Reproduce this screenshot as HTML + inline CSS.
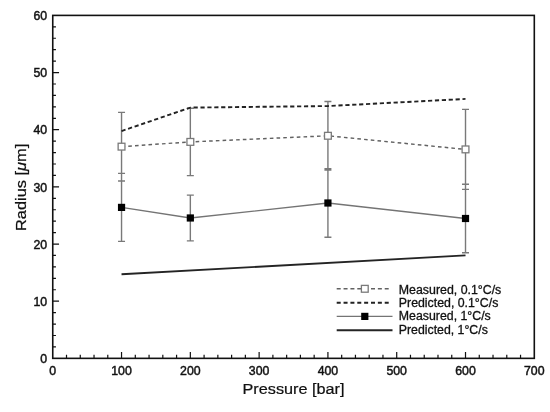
<!DOCTYPE html><html><head><meta charset="utf-8"><style>html,body{margin:0;padding:0;background:#fff;}svg{display:block;}text{font-family:"Liberation Sans",Arial,sans-serif;fill:#111;stroke:#111;stroke-width:0.22px;}.k{stroke-width:0.45px;}.g{stroke-width:0.3px;}</style></head><body>
<svg width="550" height="412" viewBox="0 0 550 412">
<rect width="550" height="412" fill="#fff"/>
<path d="M52.75 346.92h3.2M52.75 335.49h3.2M52.75 324.06h3.2M52.75 312.62h3.2M52.75 301.19h6.3M52.75 289.76h3.2M52.75 278.33h3.2M52.75 266.9h3.2M52.75 255.47h3.2M52.75 244.03h6.3M52.75 232.6h3.2M52.75 221.17h3.2M52.75 209.74h3.2M52.75 198.31h3.2M52.75 186.88h6.3M52.75 175.44h3.2M52.75 164.01h3.2M52.75 152.58h3.2M52.75 141.15h3.2M52.75 129.72h6.3M52.75 118.28h3.2M52.75 106.85h3.2M52.75 95.42h3.2M52.75 83.99h3.2M52.75 72.56h6.3M52.75 61.13h3.2M52.75 49.69h3.2M52.75 38.26h3.2M52.75 26.83h3.2M66.51 358.35v-3.6M80.27 358.35v-3.6M94.03 358.35v-3.6M107.78 358.35v-3.6M121.54 358.35v-6.3M135.3 358.35v-3.6M149.06 358.35v-3.6M162.82 358.35v-3.6M176.58 358.35v-3.6M190.34 358.35v-6.3M204.09 358.35v-3.6M217.85 358.35v-3.6M231.61 358.35v-3.6M245.37 358.35v-3.6M259.13 358.35v-6.3M272.89 358.35v-3.6M286.65 358.35v-3.6M300.4 358.35v-3.6M314.16 358.35v-3.6M327.92 358.35v-6.3M341.68 358.35v-3.6M355.44 358.35v-3.6M369.2 358.35v-3.6M382.96 358.35v-3.6M396.71 358.35v-6.3M410.47 358.35v-3.6M424.23 358.35v-3.6M437.99 358.35v-3.6M451.75 358.35v-3.6M465.51 358.35v-6.3M479.27 358.35v-3.6M493.02 358.35v-3.6M506.78 358.35v-3.6M520.54 358.35v-3.6" stroke="#111" stroke-width="1.2" fill="none"/>
<rect x="52.75" y="15.4" width="481.55" height="342.95" fill="none" stroke="#111" stroke-width="1.6"/>
<text x="47.1" y="363.05" font-size="12.3" text-anchor="end" class="k">0</text>
<text x="47.1" y="305.89" font-size="12.3" text-anchor="end" class="k">10</text>
<text x="47.1" y="248.73" font-size="12.3" text-anchor="end" class="k">20</text>
<text x="47.1" y="191.57" font-size="12.3" text-anchor="end" class="k">30</text>
<text x="47.1" y="134.42" font-size="12.3" text-anchor="end" class="k">40</text>
<text x="47.1" y="77.26" font-size="12.3" text-anchor="end" class="k">50</text>
<text x="47.1" y="20.1" font-size="12.3" text-anchor="end" class="k">60</text>
<text x="52.75" y="374.5" font-size="12.3" text-anchor="middle" class="k">0</text>
<text x="121.54" y="374.5" font-size="12.3" text-anchor="middle" class="k">100</text>
<text x="190.34" y="374.5" font-size="12.3" text-anchor="middle" class="k">200</text>
<text x="259.13" y="374.5" font-size="12.3" text-anchor="middle" class="k">300</text>
<text x="327.92" y="374.5" font-size="12.3" text-anchor="middle" class="k">400</text>
<text x="396.71" y="374.5" font-size="12.3" text-anchor="middle" class="k">500</text>
<text x="465.51" y="374.5" font-size="12.3" text-anchor="middle" class="k">600</text>
<text x="534.3" y="374.5" font-size="12.3" text-anchor="middle" class="k">700</text>
<text x="242.5" y="393.7" font-size="15.5" textLength="102" lengthAdjust="spacingAndGlyphs">Pressure [bar]</text>
<text transform="translate(26.3 231.0) rotate(-90)" font-size="15.5" textLength="87.3" lengthAdjust="spacingAndGlyphs">Radius [<tspan font-style="italic">μ</tspan>m]</text>
<path d="M121.54 112.35V180.94M118.04 112.35h7M118.04 180.94h7M190.34 108.18V175.62M186.84 108.18h7M186.84 175.62h7M327.92 101.49V170.08M324.42 101.49h7M324.42 170.08h7M465.51 109.38V189.4M462.01 109.38h7M462.01 189.4h7M121.54 173.39V241.41M118.04 173.39h7M118.04 241.41h7M190.34 195.11V240.84M186.84 195.11h7M186.84 240.84h7M327.92 168.71V237.3M324.42 168.71h7M324.42 237.3h7M465.51 184.2V252.79M462.01 184.2h7M462.01 252.79h7" stroke="#797979" stroke-width="1.4" fill="none"/>
<polyline points="121.54,274.22 465.51,255.41" stroke="#242424" stroke-width="1.9" fill="none"/>
<polyline points="121.54,207.4 190.34,217.98 327.92,203 465.51,218.49" stroke="#747474" stroke-width="1.3" fill="none"/>
<polyline points="121.54,131.04 190.34,107.6 327.92,106.06 465.51,98.92" stroke="#222222" stroke-width="1.9" fill="none" stroke-dasharray="4.2 2.7"/>
<polyline points="121.54,146.64 190.34,141.9 327.92,135.78 465.51,149.39" stroke="#626262" stroke-width="1.45" fill="none" stroke-dasharray="3.6 3.15"/>
<rect x="118.14" y="143.24" width="6.8" height="6.8" fill="#fff" stroke="#7a7a7a" stroke-width="1.3"/>
<rect x="186.94" y="138.5" width="6.8" height="6.8" fill="#fff" stroke="#7a7a7a" stroke-width="1.3"/>
<rect x="324.52" y="132.38" width="6.8" height="6.8" fill="#fff" stroke="#7a7a7a" stroke-width="1.3"/>
<rect x="462.11" y="145.99" width="6.8" height="6.8" fill="#fff" stroke="#7a7a7a" stroke-width="1.3"/>
<rect x="117.94" y="203.8" width="7.2" height="7.2" fill="#000"/>
<rect x="186.74" y="214.38" width="7.2" height="7.2" fill="#000"/>
<rect x="324.32" y="199.4" width="7.2" height="7.2" fill="#000"/>
<rect x="461.91" y="214.89" width="7.2" height="7.2" fill="#000"/>
<line x1="336.7" y1="288.8" x2="388.7" y2="288.8" stroke="#626262" stroke-width="1.45" stroke-dasharray="4 2.86"/>
<rect x="361.4" y="285.4" width="6.8" height="6.8" fill="#fff" stroke="#7a7a7a" stroke-width="1.3"/>
<line x1="336.7" y1="302.8" x2="388.7" y2="302.8" stroke="#222222" stroke-width="1.9" stroke-dasharray="4 2.86"/>
<line x1="336.7" y1="316.4" x2="392.5" y2="316.4" stroke="#747474" stroke-width="1.3"/>
<rect x="361.2" y="312.8" width="7.2" height="7.2" fill="#000"/>
<line x1="336.7" y1="330.2" x2="392.5" y2="330.2" stroke="#242424" stroke-width="1.9"/>
<text x="398.8" y="293.6" font-size="12" textLength="102.5" lengthAdjust="spacingAndGlyphs" class="g">Measured, 0.1°C/s</text>
<text x="398.8" y="307.0" font-size="12" textLength="99.5" lengthAdjust="spacingAndGlyphs" class="g">Predicted, 0.1°C/s</text>
<text x="398.8" y="320.4" font-size="12" textLength="92" lengthAdjust="spacingAndGlyphs" class="g">Measured, 1°C/s</text>
<text x="398.8" y="333.6" font-size="12" textLength="89" lengthAdjust="spacingAndGlyphs" class="g">Predicted, 1°C/s</text>
</svg></body></html>
